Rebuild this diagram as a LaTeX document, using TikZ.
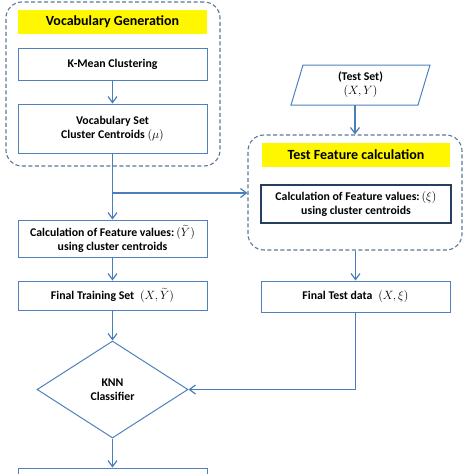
\documentclass[tikz,border=0pt]{standalone}
\usepackage{fontspec}
\setmainfont{Carlito}
\usetikzlibrary{arrows.meta,shapes.geometric}
\definecolor{lb}{HTML}{4F81BD}
\definecolor{ab}{HTML}{4A7EBB}
\definecolor{db}{HTML}{5A7897}
\definecolor{dk}{HTML}{243F60}
\definecolor{yl}{HTML}{FFF700}
\tikzset{
  box/.style={draw=lb, line width=1pt, fill=white, align=center, inner sep=0pt,
    minimum width=189, font=\bfseries\fontsize{11.8}{14}\selectfont},
  group/.style={draw=db, line width=1.1pt, dash pattern=on 4pt off 2.5pt, rounded corners=16pt, inner sep=0pt},
  band/.style={fill=yl, inner sep=0pt, minimum height=24, font=\bfseries\fontsize{14}{16}\selectfont},
  conn/.style={draw=ab, line width=1.2pt, -{Straight Barb[length=6pt,width=9pt,line width=1.2pt]}}
}
\begin{document}
\begin{tikzpicture}[x=1pt,y=-1pt]
\useasboundingbox (0,0) rectangle (474,474);
\clip (0,0) rectangle (474,474);
% left group
\node[group, minimum width=214, minimum height=164] (vg) at (113,84) {};
\node[band, minimum width=189] (vgt) at (112.5,22) {Vocabulary Generation};
\node[box, minimum height=32] (km) at (112.5,64) {K-Mean Clustering};
\node[box, minimum height=49] (vs) at (112.5,128.5) {Vocabulary Set\\Cluster Centroids $(\mu)$};
% test set parallelogram
\draw[draw=lb, line width=1pt] (291,105) -- (418,105) -- (430,65) -- (303,65) -- cycle;
\node[align=center, inner sep=0pt, minimum height=40, font=\bfseries\fontsize{11.8}{14}\selectfont] (ts) at (360.5,85) {(Test Set)\\$(X,Y)$};
% right group
\node[group, minimum width=214, minimum height=115] (tg) at (355,192.5) {};
\node[band, minimum width=188] (tgt) at (356,155) {Test Feature calculation};
\node[box, draw=dk, line width=1.6pt, minimum width=190, minimum height=38] (tc) at (356,204) {Calculation of Feature values:\,$(\xi)$\\using cluster centroids};
% left chain
\node[box, minimum height=37] (c1) at (112.5,238.5) {Calculation of Feature values:\,$(\widetilde{Y})$\\using cluster centroids};
\node[box, minimum height=29] (ft) at (112.5,295.5) {Final Training Set\enspace$(X,\widetilde{Y})$};
\node[box, minimum height=31] (fe) at (355.5,296.5) {Final Test data\enspace$(X,\xi)$};
\node[diamond, draw=lb, line width=1pt, align=center, inner sep=0pt, minimum width=151, minimum height=97,
  font=\bfseries\fontsize{11.8}{14}\selectfont] (knn) at (112.5,389.5) {KNN\\Classifier};
\node[box, minimum height=34] (res) at (112.5,485) {};
% connectors
\coordinate (br) at (112.5,193);
\draw[conn] (km) -- (vs);
\draw[conn] (vs) -- (c1);
\draw[conn] (br) -- (br -| tg.west);
\draw[conn] (ts.south -| tg.north) -- (tg.north);
\draw[conn] (tg.south -| fe.north) -- (fe.north);
\draw[conn] (c1) -- (ft);
\draw[conn] (ft) -- (knn);
\draw[conn] (fe.south) |- (knn.east);
\draw[conn] (knn) -- (res);
\end{tikzpicture}
\end{document}
